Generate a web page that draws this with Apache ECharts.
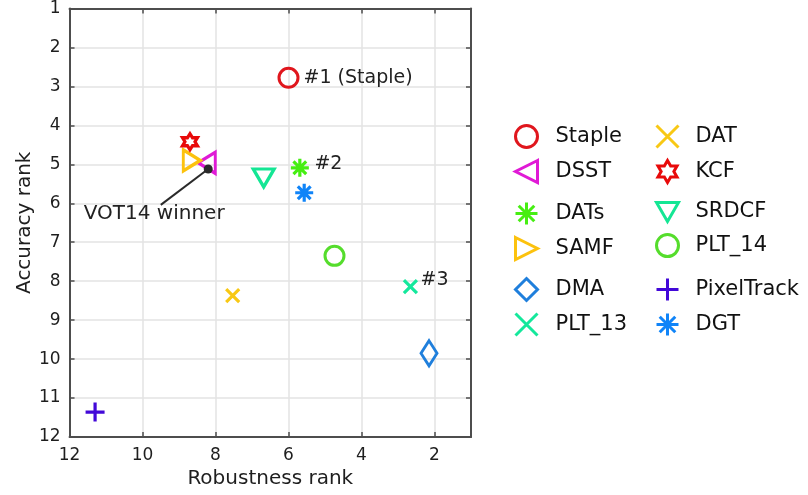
<!DOCTYPE html>
<html>
<head>
<meta charset="utf-8">
<script src="https://cdn.jsdelivr.net/npm/echarts@6/dist/echarts.min.js"></script>
<style>
  html, body { margin: 0; padding: 0; background: #fff; }
  #chart { width: 808px; height: 495px; }
</style>
</head>
<body>
<div id="chart"></div>
<script>
// trackers, in legend order
var names = ['Staple', 'DSST', 'DATs', 'SAMF', 'DMA', 'PLT_13', 'DAT', 'KCF', 'SRDCF', 'PLT_14', 'PixelTrack', 'DGT'];
var robustness = [6.0, 8.24, 5.69, 8.65, 2.15, 2.66, 7.53, 8.7, 6.68, 4.74, 11.3, 5.57];
var accuracy = [2.78, 4.96, 5.09, 4.9, 9.85, 8.14, 8.37, 4.42, 5.35, 7.35, 11.36, 5.73];
var xTicks = [12, 10, 8, 6, 4, 2];

// VOT14 winner callout
var winner = [8.2, 5.12];
var winnerLineEnd = [9.5, 6.04];
var winnerText = [9.68, 6.28];

// rank labels next to the top three
var rankLabels = { 'Staple': '#1 (Staple)', 'DATs': '#2', 'PLT_13': '#3' };
var rankOffsets = { 'Staple': [0, 0], 'DATs': [0, -4], 'PLT_13': [-2, -7] };

var colors = ['#e0161d', '#e01ad6', '#46ee12', '#fcc20e', '#1f7fdc', '#14e89c',
              '#f8c814', '#e80a0a', '#14e694', '#55dd2c', '#4208d8', '#1084f8'];

var P_X = 'path://M0,0L10,10M10,0L0,10';
var P_PLUS = 'path://M5,0L5,10M0,5L10,5';
var P_AST = 'path://M5,0L5,10M0,5L10,5M1.46,1.46L8.54,8.54M8.54,1.46L1.46,8.54';
var P_HEX = 'path://M5,0L6.443,2.5L9.33,2.5L7.887,5L9.33,7.5L6.443,7.5L5,10L3.557,7.5L0.67,7.5L2.113,5L0.67,2.5L3.557,2.5Z';
var symbols = ['circle', 'path://M10,0L0,5L10,10Z', P_AST, 'path://M0,0L10,5L0,10Z', 'diamond', P_X,
               P_X, P_HEX, 'path://M0,0L10,0L5,8.66Z', 'circle', P_PLUS, P_AST];
var sizes = [[19, 19], [17, 21], [18, 18], [17, 21], [16, 25], [13, 13],
             [13, 13], [15, 16], [21, 18], [19, 19], [19, 19], [18, 18]];
var widths = [3, 3.2, 3.2, 3.2, 3, 3.2, 3.2, 3.2, 3.2, 3, 3.2, 3.2];

var series = names.map(function (n, i) {
    var s = {
        name: n,
        type: 'scatter',
        z: 3,
        symbol: symbols[i],
        symbolSize: sizes[i],
        symbolKeepAspect: false,
        itemStyle: { color: 'rgba(0,0,0,0)', borderColor: colors[i], borderWidth: widths[i], opacity: 1 },
        emphasis: { disabled: true },
        data: [[robustness[i], accuracy[i]]]
    };
    if (rankLabels[n]) {
        s.label = {
            show: true, position: 'right', distance: 4,
            offset: rankOffsets[n],
            formatter: rankLabels[n],
            fontFamily: 'DejaVu Sans', fontSize: 19, color: '#222'
        };
    }
    return s;
});

series.push({
    type: 'line',
    z: 4,
    symbol: 'none',
    silent: true,
    lineStyle: { color: '#2a2a2a', width: 2 },
    data: [winner, winnerLineEnd]
});
series.push({
    type: 'scatter',
    z: 5,
    symbol: 'circle',
    symbolSize: 9,
    silent: true,
    itemStyle: { color: '#2a2a2a', opacity: 1 },
    data: [winner]
});
series.push({
    type: 'scatter',
    z: 5,
    symbolSize: 0,
    silent: true,
    itemStyle: { opacity: 1 },
    label: {
        show: true, position: 'inside', formatter: 'VOT14 winner',
        fontFamily: 'DejaVu Sans', fontSize: 20, color: '#222'
    },
    data: [winnerText]
});

var axisColor = '#4d4d4d';
var lblStyle = { fontFamily: 'DejaVu Sans', fontSize: 17, color: '#1e1e1e' };

function legendCol(left, top, pad, items) {
    return {
        orient: 'vertical', left: left, top: top, padding: 0,
        itemWidth: 22, itemHeight: 22, itemGap: 10,
        selectedMode: false,
        itemStyle: { borderWidth: 3 },
        textStyle: { fontFamily: 'DejaVu Sans', fontSize: 21, color: '#111', padding: [0, 0, 0, pad] },
        data: items
    };
}

var myChart = echarts.init(document.getElementById('chart'));
var option = {
    animation: false,
    backgroundColor: '#fff',
    grid: { left: 64, top: 8, width: 407, height: 429 },
    legend: [
        legendCol(514, 124, 13, names.slice(0, 2)),
        legendCol(514, 201, 13, names.slice(2, 4)),
        legendCol(514, 277, 13, names.slice(4, 6)),
        legendCol(655, 124, 12, names.slice(6, 8)),
        legendCol(655, 201, 12, names.slice(8, 10)),
        legendCol(655, 277, 12, names.slice(10, 12))
    ],
    xAxis: [{
        type: 'value', min: 1, max: 12, inverse: true,
        name: 'Robustness rank', nameLocation: 'middle', nameGap: 30,
        nameTextStyle: { fontFamily: 'DejaVu Sans', fontSize: 20, color: '#1e1e1e' },
        axisLine: { show: true, lineStyle: { color: axisColor, width: 2 } },
        axisTick: { show: true, inside: true, length: 5, customValues: xTicks, lineStyle: { color: axisColor, width: 1.5 } },
        axisLabel: Object.assign({ margin: 10, customValues: xTicks }, lblStyle),
        splitLine: { show: true, customValues: xTicks, lineStyle: { color: '#e3e3e3', width: 1.5 } }
    }, {
        type: 'value', min: 1, max: 12, inverse: true, position: 'top',
        axisLine: { show: true, onZero: false, lineStyle: { color: axisColor, width: 2 } },
        axisTick: { show: true, inside: true, length: 5, customValues: xTicks, lineStyle: { color: axisColor, width: 1.5 } },
        axisLabel: { show: false },
        splitLine: { show: false }
    }],
    yAxis: [{
        type: 'value', min: 1, max: 12, interval: 1, inverse: true,
        name: 'Accuracy rank', nameLocation: 'middle', nameGap: 35,
        nameTextStyle: { fontFamily: 'DejaVu Sans', fontSize: 20, color: '#1e1e1e' },
        axisLine: { show: true, lineStyle: { color: axisColor, width: 2 } },
        axisTick: { show: true, inside: true, length: 5, lineStyle: { color: axisColor, width: 1.5 } },
        axisLabel: Object.assign({ margin: 9 }, lblStyle),
        splitLine: { show: true, lineStyle: { color: '#e3e3e3', width: 1.5 } }
    }, {
        type: 'value', min: 1, max: 12, interval: 1, inverse: true, position: 'right',
        axisLine: { show: true, onZero: false, lineStyle: { color: axisColor, width: 2 } },
        axisTick: { show: true, inside: true, length: 5, lineStyle: { color: axisColor, width: 1.5 } },
        axisLabel: { show: false },
        splitLine: { show: false }
    }],
    series: series
};
myChart.setOption(option);
</script>
</body>
</html>
